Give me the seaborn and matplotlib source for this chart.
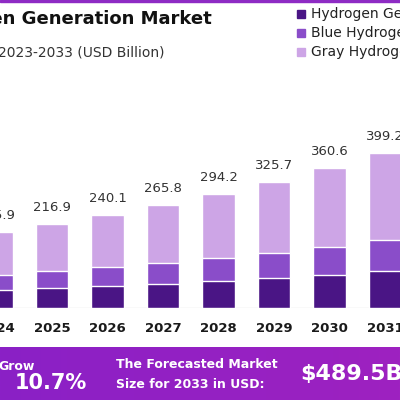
import matplotlib
matplotlib.use("Agg")
import matplotlib.pyplot as plt
import numpy as np
import pandas as pd
import seaborn as sns
from matplotlib.patches import Rectangle

years = ["2024", "2025", "2026", "2027", "2028", "2029", "2030", "2031"]
totals = [195.9, 216.9, 240.1, 265.8, 294.2, 325.7, 360.6, 399.2]
gen_hydrogen = [45.9, 50.3, 57.0, 62.2, 70.0, 76.9, 85.5, 95.0]
blue_hydrogen = [39.7, 44.8, 48.4, 54.4, 58.8, 65.5, 72.5, 80.3]
series_names = ["Hydrogen Generation", "Blue Hydrogen", "Gray Hydrogen"]
colors = ["#4a1585", "#8a4dc9", "#cda5e6"]

df = pd.DataFrame({"year": years, "total": totals, "gen": gen_hydrogen, "blue": blue_hydrogen})
df["gen_blue"] = df["gen"] + df["blue"]

sns.set_theme(style="white")
plt.rcParams["font.family"] = ["DejaVu Sans"]

fig = plt.figure(figsize=(4, 4), dpi=100)
fig.patch.set_facecolor("white")

# axes placed so that the baseline sits at y=308 px and bars repeat every 55.5 px
ax = fig.add_axes([0, 1 - 307.7 / 400, 1, 167.7 / 400])
bar_w = 0.58
sns.barplot(data=df, x="year", y="total", color=colors[2], width=bar_w, saturation=1, ax=ax)
sns.barplot(data=df, x="year", y="gen_blue", color=colors[1], width=bar_w, saturation=1, ax=ax)
sns.barplot(data=df, x="year", y="gen", color=colors[0], width=bar_w, saturation=1, ax=ax)

ax.set_xlim(3.5 / 55.5, 403.5 / 55.5)
ax.set_ylim(0, 167.7 / 0.3865)
ax.axis("off")
ax.axhline(0, color="#e3e3e3", lw=1, zorder=0)

for i, (yr, tot) in enumerate(zip(years, totals)):
    ax.annotate(f"{tot:.1f}", (i, tot), xytext=(0, 12), textcoords="offset points",
                ha="center", va="center", fontsize=9.5, color="#333333", annotation_clip=False)
    ax.annotate(yr, (i, 0), xytext=(0, -15), textcoords="offset points",
                ha="center", va="center", fontsize=9.5, fontweight="bold", color="#1a1a1a",
                annotation_clip=False)

# header
fig.add_artist(Rectangle((0, 0.995), 1, 0.005, transform=fig.transFigure, color="#8e2bc4"))
fig.text(212 / 400, 1 - 19 / 400, "Hydrogen Generation Market", ha="right", va="center",
         fontsize=13, fontweight="bold", color="#111111")
fig.text(-2 / 400, 1 - 53 / 400, "2023-2033 (USD Billion)", ha="left", va="center",
         fontsize=10, color="#333333")

for k, (name, c) in enumerate(zip(series_names, colors)):
    y = 1 - (14 + 19 * k) / 400
    fig.add_artist(Rectangle((297 / 400, y - 4 / 400), 8 / 400, 8 / 400,
                             transform=fig.transFigure, color=c))
    fig.text(311 / 400, y, name, ha="left", va="center", fontsize=10, color="#222222")

# bottom banner
grad = np.linspace(0, 1, 256).reshape(1, -1)
bax = fig.add_axes([0, 0, 1, 53 / 400])
bax.imshow(grad, aspect="auto", extent=[0, 1, 0, 1],
           cmap=matplotlib.colors.LinearSegmentedColormap.from_list("b", ["#8a20c6", "#9e22c0"]))
bax.axis("off")
fig.text(-2 / 400, 1 - 366 / 400, "Grow", ha="left", va="center", fontsize=9,
         fontweight="bold", color="white")
fig.text(51 / 400, 1 - 383 / 400, "10.7%", ha="center", va="center", fontsize=15,
         fontweight="bold", color="white")
fig.text(116 / 400, 1 - 365 / 400, "The Forecasted Market", ha="left", va="center",
         fontsize=9, fontweight="bold", color="white")
fig.text(116 / 400, 1 - 384 / 400, "Size for 2033 in USD:", ha="left", va="center",
         fontsize=9, fontweight="bold", color="white")
fig.text(300 / 400, 1 - 374 / 400, "$489.5B", ha="left", va="center", fontsize=16,
         fontweight="bold", color="white")

fig.savefig("out.png", dpi=100)
